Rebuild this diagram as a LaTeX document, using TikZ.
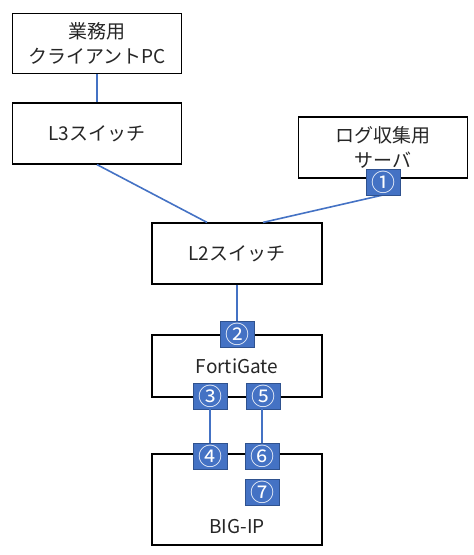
\documentclass[tikz,border=0pt]{standalone}
\usepackage{fontspec}
\setmainfont{Noto Sans CJK JP}
\usetikzlibrary{calc}
\definecolor{linkblue}{HTML}{4472C4}
\definecolor{portedge}{HTML}{2F528F}

\begin{document}
\begin{tikzpicture}[x=1pt, y=-1pt,
	box/.style = {draw, line width=1.2pt, fill=white, text=black!85, align=center, inner sep=0pt, minimum width=169pt, font=\fontsize{19}{25}\selectfont},
	port/.style = {draw=portedge, line width=0.8pt, fill=linkblue, text=white, inner sep=0pt, minimum width=34pt, minimum height=26pt, font=\fontsize{24}{24}\selectfont},
	link/.style = {draw=linkblue, line width=1.6pt}]
				\useasboundingbox (0,0) rectangle (474,555);
				% boxes
				\node[box, minimum height=60pt] (pc) at (97,43.5) {業務用\\クライアントPC};
				\node[box, minimum height=61pt] (l3) at (97,133.5) {L3スイッチ};
				\node[box, minimum height=61pt] (log) at (383,147.5) {ログ収集用\\サーバ};
				\node[box, minimum height=61pt, minimum width=170pt] (l2) at (237,253.5) {L2スイッチ};
				\node[box, minimum height=62pt, minimum width=170pt] (fg) at (237,366) {FortiGate};
				\node[box, minimum height=91pt, minimum width=170pt] (bigip) at (237,499.5) {};
				\node[text=black!85, font=\fontsize{19}{25}\selectfont] (bigiplabel) at (237,527) {BIG-IP};
				% links
				\draw[link] (pc.south) -- (l3.north);
				\draw[link] (l3.south) -- ([xshift=-30pt]l2.north);
				\draw[link] ([xshift=26pt]l2.north) -- (383,195) coordinate (logport);
				% ports
				\node[port] (p1) at (383,182) {①};
				\node[port] (p2) at (237,334.5) {②};
				\node[port] (p3) at (210,396) {③};
				\node[port] (p5) at (263,396) {⑤};
				\node[port] (p4) at (210,456) {④};
				\node[port] (p6) at (262,456) {⑥};
				\node[port] (p7) at (262,492) {⑦};
				\draw[link] (l2.south) -- (p2.north);
				\draw[link] (p3.south) -- (p4.north);
				\draw[link] (p5.south -| p6) -- (p6.north);
			\end{tikzpicture}
\end{document}
